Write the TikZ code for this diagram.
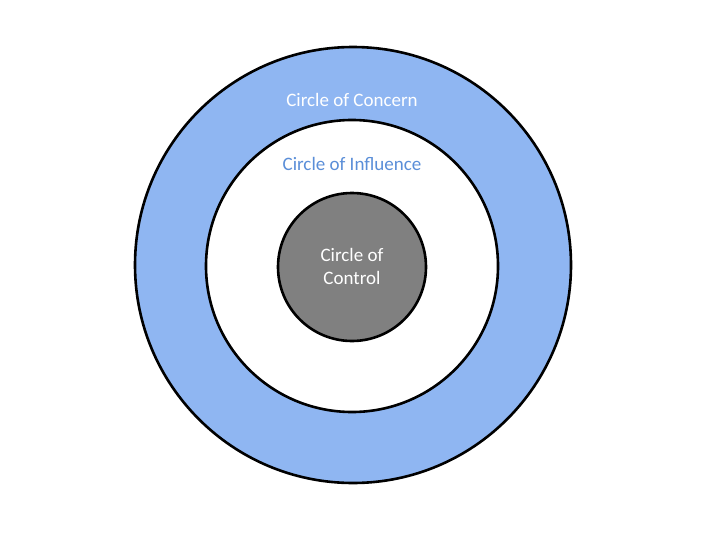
\documentclass[tikz,border=0pt]{standalone}
\usepackage{fontspec}
\setmainfont{Carlito}
\definecolor{ringblue}{HTML}{8FB6F2}
\definecolor{textblue}{HTML}{5A8ED8}
\definecolor{coregray}{HTML}{808080}
\begin{document}
\begin{tikzpicture}[x=1pt,y=-1pt,
  ring/.style={circle,draw=black,line width=2.6pt,inner sep=0pt},
  lbl/.style={font=\fontsize{19}{23}\selectfont,align=center}]
\useasboundingbox (0,0) rectangle (728,546);
\node[ring,fill=ringblue,minimum size=436pt] (outer) at (353,265) {};
\node[ring,fill=white,minimum size=292pt] (mid) at (352,266) {};
\node[ring,fill=coregray,minimum size=148pt] (inner) at (352,267) {};
\node[lbl,text=white] (tconcern) at (352,100) {Circle of Concern};
\node[lbl,text=textblue] (tinfl) at (352,164) {Circle of Influence};
\node[lbl,text=white] (tctrl) at (352,266) {Circle of\\ Control};
\end{tikzpicture}
\end{document}
